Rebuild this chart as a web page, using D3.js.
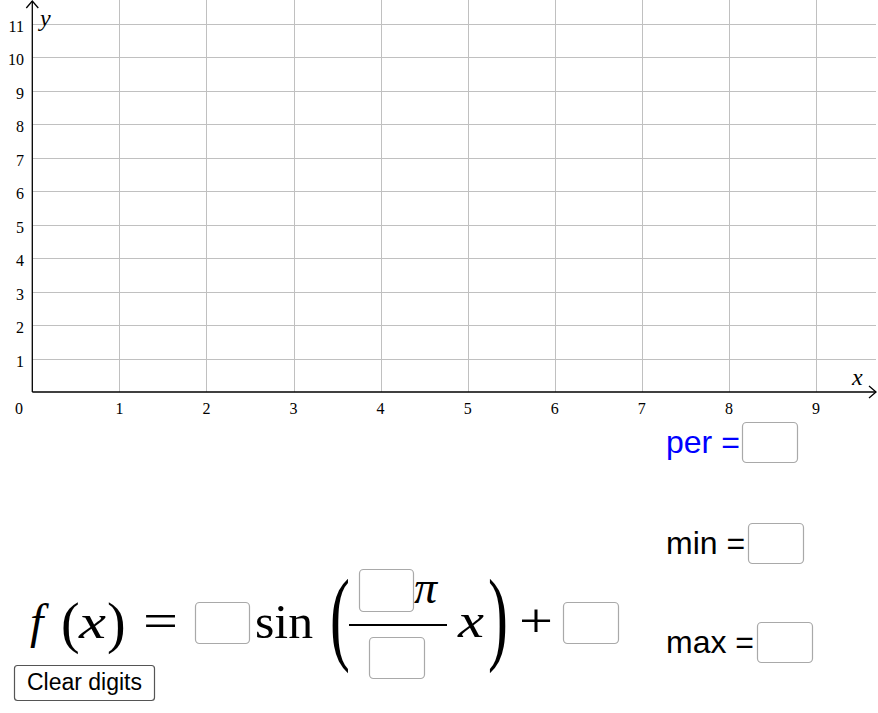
<!DOCTYPE html>
<html>
<head>
<meta charset="utf-8">
<script src="https://cdn.jsdelivr.net/npm/d3@7"></script>
<style>
html,body{margin:0;padding:0;background:#fff;overflow:hidden;}
svg{display:block;}
</style>
</head>
<body>
<script>
// ---- data ----
const xTicks = [1, 2, 3, 4, 5, 6, 7, 8, 9];
const yTicks = [1, 2, 3, 4, 5, 6, 7, 8, 9, 10, 11];
const xDomain = [0, 9];
const yDomain = [0, 11];
const originLabel = "0";
const axisNames = ["x", "y"];
const sideLabels = ["per =", "min =", "max ="];
const sideColors = ["#0000ff", "#000000", "#000000"];
const buttonLabel = "Clear digits";

(function () {
const W = 878, H = 713;
const svg = d3.select("body").append("svg").attr("width", W).attr("height", H);

const x = d3.scaleLinear().domain(xDomain).range([32.3, 816]);
const y = d3.scaleLinear().domain(yDomain).range([392, 24]);
const x0 = x(0), y0 = y(0);
const xEnd = 876, yEnd = 1;

// grid
const grid = svg.append("g").attr("stroke", "#c0c0c0").attr("stroke-width", 1);
grid.selectAll("line.v").data(xTicks).join("line").attr("class", "v")
  .attr("x1", d => Math.round(x(d)) + 0.5).attr("x2", d => Math.round(x(d)) + 0.5)
  .attr("y1", 0).attr("y2", y0);
grid.selectAll("line.h").data(yTicks).join("line").attr("class", "h")
  .attr("y1", d => Math.round(y(d)) + 0.5).attr("y2", d => Math.round(y(d)) + 0.5)
  .attr("x1", x0).attr("x2", xEnd);

// axes
const ax = svg.append("g").attr("stroke", "#000").attr("stroke-width", 1.3).attr("fill", "none");
ax.append("line").attr("x1", x0).attr("x2", xEnd).attr("y1", y0).attr("y2", y0);
ax.append("line").attr("x1", x0).attr("x2", x0).attr("y1", y0).attr("y2", yEnd);
ax.append("path").attr("d", `M${xEnd-7},${y0-6} L${xEnd},${y0} L${xEnd-7},${y0+6}`);
ax.append("path").attr("d", `M${x0-6},${yEnd+7} L${x0},${yEnd} L${x0+6},${yEnd+7}`);

// tick labels
const lab = svg.append("g").attr("font-family", "'Liberation Serif', 'Times New Roman', serif").attr("font-size", 16).attr("fill", "#000");
lab.selectAll("text.x").data(xTicks).join("text").attr("class", "x")
  .attr("x", d => x(d)).attr("y", 414).attr("text-anchor", "middle").text(d => d);
lab.append("text").attr("x", 19).attr("y", 414).attr("text-anchor", "middle").text(originLabel);
lab.selectAll("text.y").data(yTicks).join("text").attr("class", "y")
  .attr("x", 24).attr("y", d => y(d) + 8).attr("text-anchor", "end").text(d => d);

// axis names
const nm = svg.append("g").attr("font-family", "'Liberation Serif', serif").attr("font-style", "italic").attr("font-size", 24);
nm.append("text").attr("x", 852).attr("y", 385).text(axisNames[0]);
nm.append("text").attr("x", 40).attr("y", 26).text(axisNames[1]);

// input boxes helper
function box(bx, by, bw, bh) {
  svg.append("rect").attr("x", bx + 0.5).attr("y", by + 0.5).attr("width", bw).attr("height", bh)
    .attr("rx", 4).attr("fill", "#fff").attr("stroke", "#a9a9a9").attr("stroke-width", 1.2);
}

// side labels
const sideY = [453, 554, 653];
const sideBoxX = [742, 748, 757];
sideLabels.forEach((t, i) => {
  svg.append("text").attr("x", 666).attr("y", sideY[i])
    .attr("font-family", "'Liberation Sans', Arial, sans-serif").attr("font-size", 32)
    .attr("fill", sideColors[i]).text(t);
  box(sideBoxX[i], sideY[i] - 31, 55, 40);
});

// formula
const F = svg.append("g").attr("font-family", "'Liberation Serif', 'Times New Roman', serif").attr("font-size", 48).attr("fill", "#000");
F.append("text").attr("x", 30).attr("y", 638).attr("font-style", "italic").text("f");
F.append("text").attr("x", 61).attr("y", 642).attr("font-size", 56).text("(");
F.append("text").attr("x", 79).attr("y", 638).attr("font-style", "italic").attr("textLength", 27).attr("lengthAdjust", "spacingAndGlyphs").text("x");
F.append("text").attr("x", 107).attr("y", 642).attr("font-size", 56).text(")");
F.append("text").attr("x", 143).attr("y", 637).attr("textLength", 35).attr("lengthAdjust", "spacingAndGlyphs").text("=");
box(195, 602, 54, 41);
F.append("text").attr("x", 255).attr("y", 638).attr("textLength", 58).attr("lengthAdjust", "spacingAndGlyphs").text("sin");
F.append("text").attr("transform", "translate(330,651) scale(1.3,2.25)").attr("font-size", 46).text("(");
box(359, 569, 54, 42);
F.append("text").attr("x", 414).attr("y", 603).attr("font-style", "italic").attr("font-size", 46).text("π");
svg.append("line").attr("x1", 349).attr("x2", 447).attr("y1", 625).attr("y2", 625).attr("stroke", "#000").attr("stroke-width", 2);
box(369, 637, 55, 41);
F.append("text").attr("x", 458).attr("y", 637).attr("font-style", "italic").attr("textLength", 26).attr("lengthAdjust", "spacingAndGlyphs").text("x");
F.append("text").attr("transform", "translate(488,651) scale(1.3,2.25)").attr("font-size", 46).text(")");
F.append("text").attr("x", 519).attr("y", 637).attr("textLength", 34).attr("lengthAdjust", "spacingAndGlyphs").text("+");
box(563, 602, 55, 41);

// button
svg.append("rect").attr("x", 14.5).attr("y", 665.5).attr("width", 140).attr("height", 35).attr("rx", 3)
  .attr("fill", "#fff").attr("stroke", "#555").attr("stroke-width", 1.2);
svg.append("text").attr("x", 84.5).attr("y", 690).attr("text-anchor", "middle")
  .attr("font-family", "'Liberation Sans', Arial, sans-serif").attr("font-size", 23).text(buttonLabel);
})();
</script>
</body>
</html>
